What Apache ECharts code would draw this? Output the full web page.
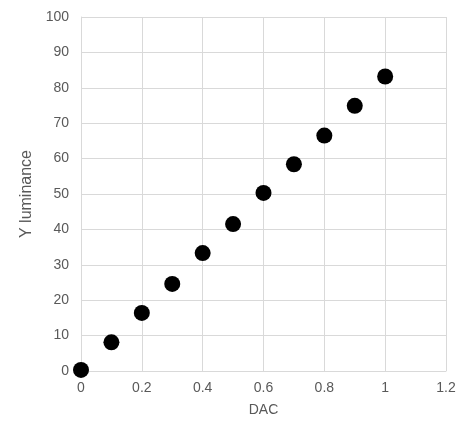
<!DOCTYPE html>
<html><head><meta charset="utf-8">
<script src="https://cdn.jsdelivr.net/npm/echarts@6/dist/echarts.min.js"></script>
<style>html,body{margin:0;padding:0;background:#fff}#c{width:474px;height:438px}</style>
</head><body><div id="c"></div>
<script>
const dacValues = [0, 0.1, 0.2, 0.3, 0.4, 0.5, 0.6, 0.7, 0.8, 0.9, 1.0];
const luminanceValues = [0.3, 8.1, 16.4, 24.6, 33.3, 41.5, 50.3, 58.4, 66.5, 74.9, 83.2];
const xAxisTitle = 'DAC';
const yAxisTitle = 'Y luminance';

const points = dacValues.map((d, i) => [d, luminanceValues[i]]);
const chart = echarts.init(document.getElementById('c'), null, {renderer: 'canvas'});
const font = 'Liberation Sans, Arial, Helvetica, sans-serif';
const gridColor = '#d9d9d9';
chart.setOption({
  animation: false,
  backgroundColor: '#fff',
  grid: {left: 81, right: 28, top: 17, bottom: 67, containLabel: false},
  xAxis: {
    type: 'value', min: 0, max: 1.2, interval: 0.2,
    name: xAxisTitle, nameLocation: 'middle', nameGap: 32,
    nameTextStyle: {color: '#595959', fontSize: 14, fontFamily: font},
    axisLine: {show: true, lineStyle: {color: gridColor, width: 1}},
    axisTick: {show: false},
    axisLabel: {color: '#595959', fontSize: 14, fontFamily: font, margin: 10,
      formatter: v => String(Math.round(v * 10) / 10)},
    splitLine: {show: true, lineStyle: {color: gridColor, width: 1}}
  },
  yAxis: {
    type: 'value', min: 0, max: 100, interval: 10,
    name: yAxisTitle, nameLocation: 'middle', nameGap: 43,
    nameTextStyle: {color: '#595959', fontSize: 16, fontFamily: font},
    axisLine: {show: true, lineStyle: {color: gridColor, width: 1}},
    axisTick: {show: false},
    axisLabel: {color: '#595959', fontSize: 14, fontFamily: font, margin: 12},
    splitLine: {show: true, lineStyle: {color: gridColor, width: 1}}
  },
  series: [{
    type: 'scatter',
    data: points,
    symbol: 'circle',
    symbolSize: 16,
    itemStyle: {color: '#000', opacity: 1}
  }]
});
</script>
</body></html>
